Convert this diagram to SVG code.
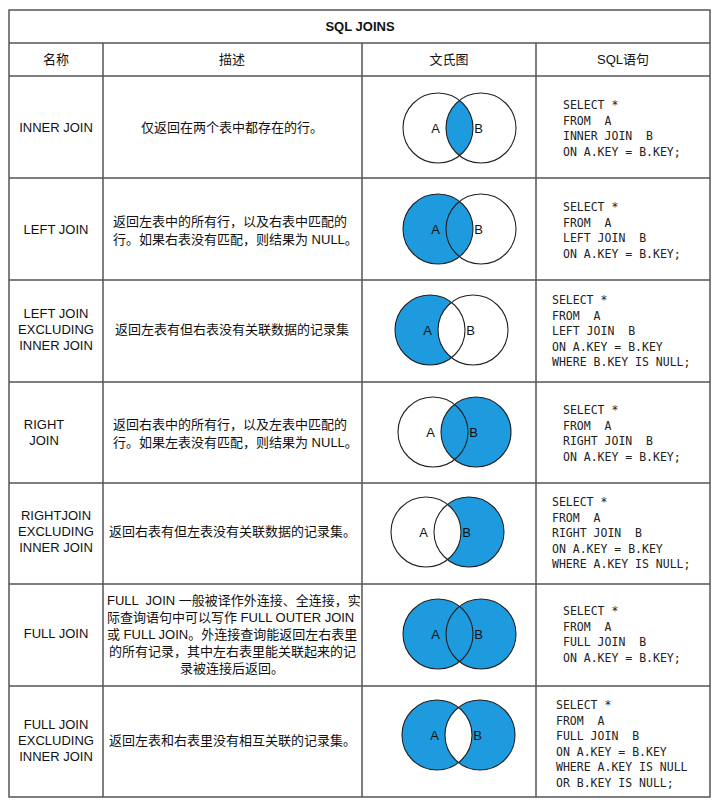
<svg xmlns="http://www.w3.org/2000/svg" xmlns:xlink="http://www.w3.org/1999/xlink" width="720" height="806" viewBox="0 0 720 806">
<style>
.g{stroke:#555;stroke-width:1.5;fill:none}
.t{font-family:"Liberation Sans","Noto Sans CJK SC",sans-serif;font-size:13px;fill:#111;text-anchor:middle}
.d{font-family:"Liberation Sans","Noto Sans CJK SC",sans-serif;font-size:13px;fill:#111;white-space:pre}
.m{font-family:"DejaVu Sans Mono","Liberation Mono",monospace;font-size:11.5px;fill:#222;white-space:pre}
.f{fill:#1E9BDF}
.c{fill:none;stroke:#222;stroke-width:1.1}
.l{font-family:"Liberation Sans",sans-serif;font-size:13px;fill:#111;text-anchor:middle}
</style>
<defs>
<path id="lens" class="f" d="M0,-27.6 A35,35 0 0 1 0,27.6 A35,35 0 0 1 0,-27.6 Z"/>
<path id="aonly" class="f" d="M0,-27.6 A35,35 0 1 0 0,27.6 A35,35 0 0 1 0,-27.6 Z"/>
<path id="bonly" class="f" d="M0,-27.6 A35,35 0 1 1 0,27.6 A35,35 0 0 0 0,-27.6 Z"/>
<g id="rings"><circle class="c" cx="-21.5" cy="0" r="35"/><circle class="c" cx="21.5" cy="0" r="35"/><text class="l" x="-24" y="5">A</text><text class="l" x="19" y="5">B</text></g>
</defs>
<rect x="0" y="0" width="720" height="806" fill="#fff"/>
<g id="grid" class="g">
<rect x="9" y="10" width="701" height="787"/>
<line x1="9" y1="43" x2="710" y2="43"/>
<line x1="9" y1="76" x2="710" y2="76"/>
<line x1="9" y1="178" x2="710" y2="178"/>
<line x1="9" y1="280" x2="710" y2="280"/>
<line x1="9" y1="382" x2="710" y2="382"/>
<line x1="9" y1="483" x2="710" y2="483"/>
<line x1="9" y1="584" x2="710" y2="584"/>
<line x1="9" y1="686" x2="710" y2="686"/>
<line x1="103" y1="43" x2="103" y2="797"/>
<line x1="362" y1="43" x2="362" y2="797"/>
<line x1="536" y1="43" x2="536" y2="797"/>
</g>
<g id="header">
<text class="t" x="360" y="31" style="font-weight:bold">SQL JOINS</text>
<text class="t" x="56" y="64">名称</text>
<text class="t" x="232" y="64">描述</text>
<text class="t" x="449" y="64">文氏图</text>
<text class="t" x="623" y="64">SQL语句</text>
</g>
<g id="row1">
<text class="t" x="56" y="132">INNER JOIN</text>
<text class="t" x="232" y="132">仅返回在两个表中都存在的行。</text>
<g transform="translate(459.5,128)"><use xlink:href="#lens"/><use xlink:href="#rings"/></g>
<text class="m" x="563" y="109">SELECT *<tspan x="563" dy="15.5">FROM  A</tspan><tspan x="563" dy="15.5">INNER JOIN  B</tspan><tspan x="563" dy="15.5">ON A.KEY = B.KEY;</tspan></text>
</g>
<g id="row2">
<text class="t" x="56" y="234">LEFT JOIN</text>
<text class="d" x="113" y="226">返回左表中的所有行，以及右表中匹配的</text>
<text class="d" x="113" y="244">行。如果右表没有匹配，则结果为 NULL。</text>
<g transform="translate(459.5,229)"><circle class="f" cx="-21.5" cy="0" r="35"/><use xlink:href="#rings"/></g>
<text class="m" x="563" y="211">SELECT *<tspan x="563" dy="15.5">FROM  A</tspan><tspan x="563" dy="15.5">LEFT JOIN  B</tspan><tspan x="563" dy="15.5">ON A.KEY = B.KEY;</tspan></text>
</g>
<g id="row3">
<text class="t" x="56" y="318">LEFT JOIN</text>
<text class="t" x="56" y="334">EXCLUDING</text>
<text class="t" x="56" y="350">INNER JOIN</text>
<text class="d" x="115" y="334">返回左表有但右表没有关联数据的记录集</text>
<g transform="translate(451.5,330)"><use xlink:href="#aonly"/><use xlink:href="#rings"/></g>
<text class="m" x="552" y="304">SELECT *<tspan x="552" dy="15.5">FROM  A</tspan><tspan x="552" dy="15.5">LEFT JOIN  B</tspan><tspan x="552" dy="15.5">ON A.KEY = B.KEY</tspan><tspan x="552" dy="15.5">WHERE B.KEY IS NULL;</tspan></text>
</g>
<g id="row4">
<text class="t" x="44" y="429">RIGHT</text>
<text class="t" x="44" y="445">JOIN</text>
<text class="d" x="113" y="429">返回右表中的所有行，以及左表中匹配的</text>
<text class="d" x="113" y="447">行。如果左表没有匹配，则结果为 NULL。</text>
<g transform="translate(454.5,432)"><circle class="f" cx="21.5" cy="0" r="35"/><use xlink:href="#rings"/></g>
<text class="m" x="563" y="414">SELECT *<tspan x="563" dy="15.5">FROM  A</tspan><tspan x="563" dy="15.5">RIGHT JOIN  B</tspan><tspan x="563" dy="15.5">ON A.KEY = B.KEY;</tspan></text>
</g>
<g id="row5">
<text class="t" x="56" y="520">RIGHTJOIN</text>
<text class="t" x="56" y="536">EXCLUDING</text>
<text class="t" x="56" y="552">INNER JOIN</text>
<text class="d" x="109" y="536">返回右表有但左表没有关联数据的记录集。</text>
<g transform="translate(447.5,532)"><use xlink:href="#bonly"/><use xlink:href="#rings"/></g>
<text class="m" x="552" y="506">SELECT *<tspan x="552" dy="15.5">FROM  A</tspan><tspan x="552" dy="15.5">RIGHT JOIN  B</tspan><tspan x="552" dy="15.5">ON A.KEY = B.KEY</tspan><tspan x="552" dy="15.5">WHERE A.KEY IS NULL;</tspan></text>
</g>
<g id="row6">
<text class="t" x="56" y="638">FULL JOIN</text>
<text class="d" x="107" y="605">FULL  JOIN 一般被译作外连接、全连接，实</text>
<text class="d" x="107" y="622">际查询语句中可以写作 FULL OUTER JOIN</text>
<text class="d" x="107" y="639">或 FULL JOIN。外连接查询能返回左右表里</text>
<text class="d" x="109" y="656">的所有记录，其中左右表里能关联起来的记</text>
<text class="t" x="232" y="673">录被连接后返回。</text>
<g transform="translate(459.5,634)"><circle class="f" cx="-21.5" cy="0" r="35"/><circle class="f" cx="21.5" cy="0" r="35"/><use xlink:href="#rings"/></g>
<text class="m" x="563" y="615">SELECT *<tspan x="563" dy="15.5">FROM  A</tspan><tspan x="563" dy="15.5">FULL JOIN  B</tspan><tspan x="563" dy="15.5">ON A.KEY = B.KEY;</tspan></text>
</g>
<g id="row7">
<text class="t" x="56" y="729">FULL JOIN</text>
<text class="t" x="56" y="745">EXCLUDING</text>
<text class="t" x="56" y="761">INNER JOIN</text>
<text class="d" x="109" y="745">返回左表和右表里没有相互关联的记录集。</text>
<g transform="translate(458.5,735)"><use xlink:href="#aonly"/><use xlink:href="#bonly"/><use xlink:href="#rings"/></g>
<text class="m" x="556" y="709">SELECT *<tspan x="556" dy="15.5">FROM  A</tspan><tspan x="556" dy="15.5">FULL JOIN  B</tspan><tspan x="556" dy="15.5">ON A.KEY = B.KEY</tspan><tspan x="556" dy="15.5">WHERE A.KEY IS NULL</tspan><tspan x="556" dy="15.5">OR B.KEY IS NULL;</tspan></text>
</g>
</svg>
